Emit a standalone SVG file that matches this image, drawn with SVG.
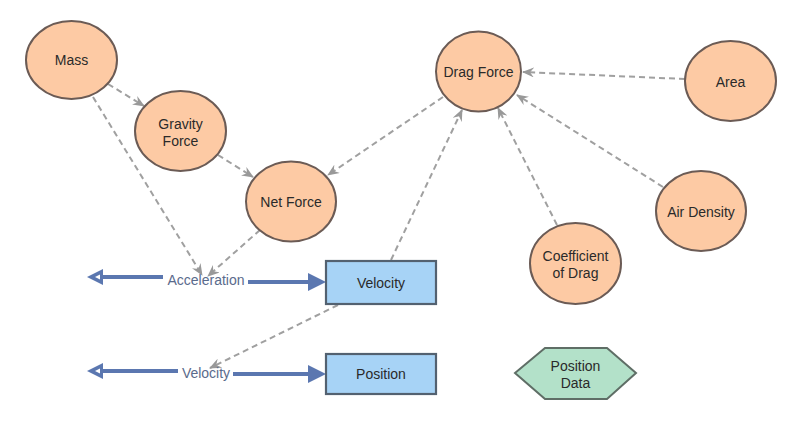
<svg xmlns="http://www.w3.org/2000/svg" width="800" height="422" viewBox="0 0 800 422">
<defs>
<style>
.stock ellipse{fill:#fdcaa4;stroke:#6b5b55;stroke-width:2}
.box rect{fill:#a7d3f6;stroke:#536170;stroke-width:2.2}
text{font-family:"Liberation Sans",Arial,sans-serif;font-size:14px;fill:#2a2a2a;text-anchor:middle}
.flowlbl{fill:#5a6b8c;font-size:14px}
.dash{fill:none;stroke:#a0a0a0;stroke-width:2;stroke-dasharray:6,4;marker-end:url(#ah)}
.flow{fill:none;stroke:#5b77b0;stroke-width:4}
</style>
<marker id="ah" viewBox="0 0 12 10" refX="11" refY="5" markerWidth="12" markerHeight="10" markerUnits="userSpaceOnUse" orient="auto">
<path d="M0,0 L12,5 L0,10 L4,5 z" fill="#999"/>
</marker>
</defs>
<rect width="800" height="422" fill="#fff"/>
<g id="connectors">
<line class="dash" x1="108" y1="84" x2="144" y2="106"/>
<line class="dash" x1="218" y1="155" x2="253" y2="177"/>
<line class="dash" x1="443" y1="97" x2="328" y2="175"/>
<line class="dash" x1="93" y1="97" x2="202" y2="275"/>
<line class="dash" x1="260" y1="230" x2="208" y2="276"/>
<line class="dash" x1="391" y1="260" x2="462" y2="110"/>
<line class="dash" x1="557" y1="225" x2="498" y2="108"/>
<line class="dash" x1="663" y1="187" x2="517" y2="95"/>
<line class="dash" x1="685" y1="79" x2="523" y2="72"/>
<line class="dash" x1="338" y1="305" x2="210" y2="368"/>
</g>
<g id="flow-acceleration">
<line class="flow" x1="100" y1="277" x2="163" y2="277"/>
<path d="M87,277 L103,269 L103,285 z" fill="#5b77b0"/>
<path d="M95,277 L100,274.5 L100,279.5 z" fill="#fff"/>
<line class="flow" x1="248" y1="282" x2="310" y2="282"/>
<path d="M326,282 L308,273 L308,291 z" fill="#5b77b0"/>
<text class="flowlbl" x="206" y="285">Acceleration</text>
</g>
<g id="flow-velocity">
<line class="flow" x1="100" y1="371" x2="178" y2="371"/>
<path d="M87,371 L103,363 L103,379 z" fill="#5b77b0"/>
<path d="M95,371 L100,368.5 L100,373.5 z" fill="#fff"/>
<line class="flow" x1="233" y1="374" x2="310" y2="374"/>
<path d="M326,374 L308,365 L308,383 z" fill="#5b77b0"/>
<text class="flowlbl" x="206" y="378">Velocity</text>
</g>
<g id="mass" class="stock"><ellipse cx="71.5" cy="60" rx="45.5" ry="39"/><text x="71.5" y="65">Mass</text></g>
<g id="gravity-force" class="stock"><ellipse cx="180.5" cy="131" rx="45.5" ry="40"/><text x="180.5" y="129">Gravity</text><text x="180.5" y="146">Force</text></g>
<g id="net-force" class="stock"><ellipse cx="291" cy="201.5" rx="45" ry="40"/><text x="291" y="207">Net Force</text></g>
<g id="drag-force" class="stock"><ellipse cx="478.5" cy="71.5" rx="42.5" ry="40"/><text x="478.5" y="77">Drag Force</text></g>
<g id="area" class="stock"><ellipse cx="730.5" cy="81" rx="45.5" ry="40"/><text x="730.5" y="87">Area</text></g>
<g id="air-density" class="stock"><ellipse cx="701" cy="211" rx="45" ry="40"/><text x="701" y="217">Air Density</text></g>
<g id="coefficient-of-drag" class="stock"><ellipse cx="575.5" cy="263.5" rx="45.5" ry="40.5"/><text x="575.5" y="261">Coefficient</text><text x="575.5" y="278">of Drag</text></g>
<g id="velocity" class="box"><rect x="326" y="261" width="110" height="43"/><text x="381" y="288">Velocity</text></g>
<g id="position" class="box"><rect x="326" y="354" width="110" height="40"/><text x="381" y="379">Position</text></g>
<g id="position-data"><polygon points="515,373 545,348 607,348 636,373 607,399 545,399" fill="#b3e1c9" stroke="#5f6e66" stroke-width="2"/><text x="575.5" y="371">Position</text><text x="575.5" y="388">Data</text></g>
</svg>
